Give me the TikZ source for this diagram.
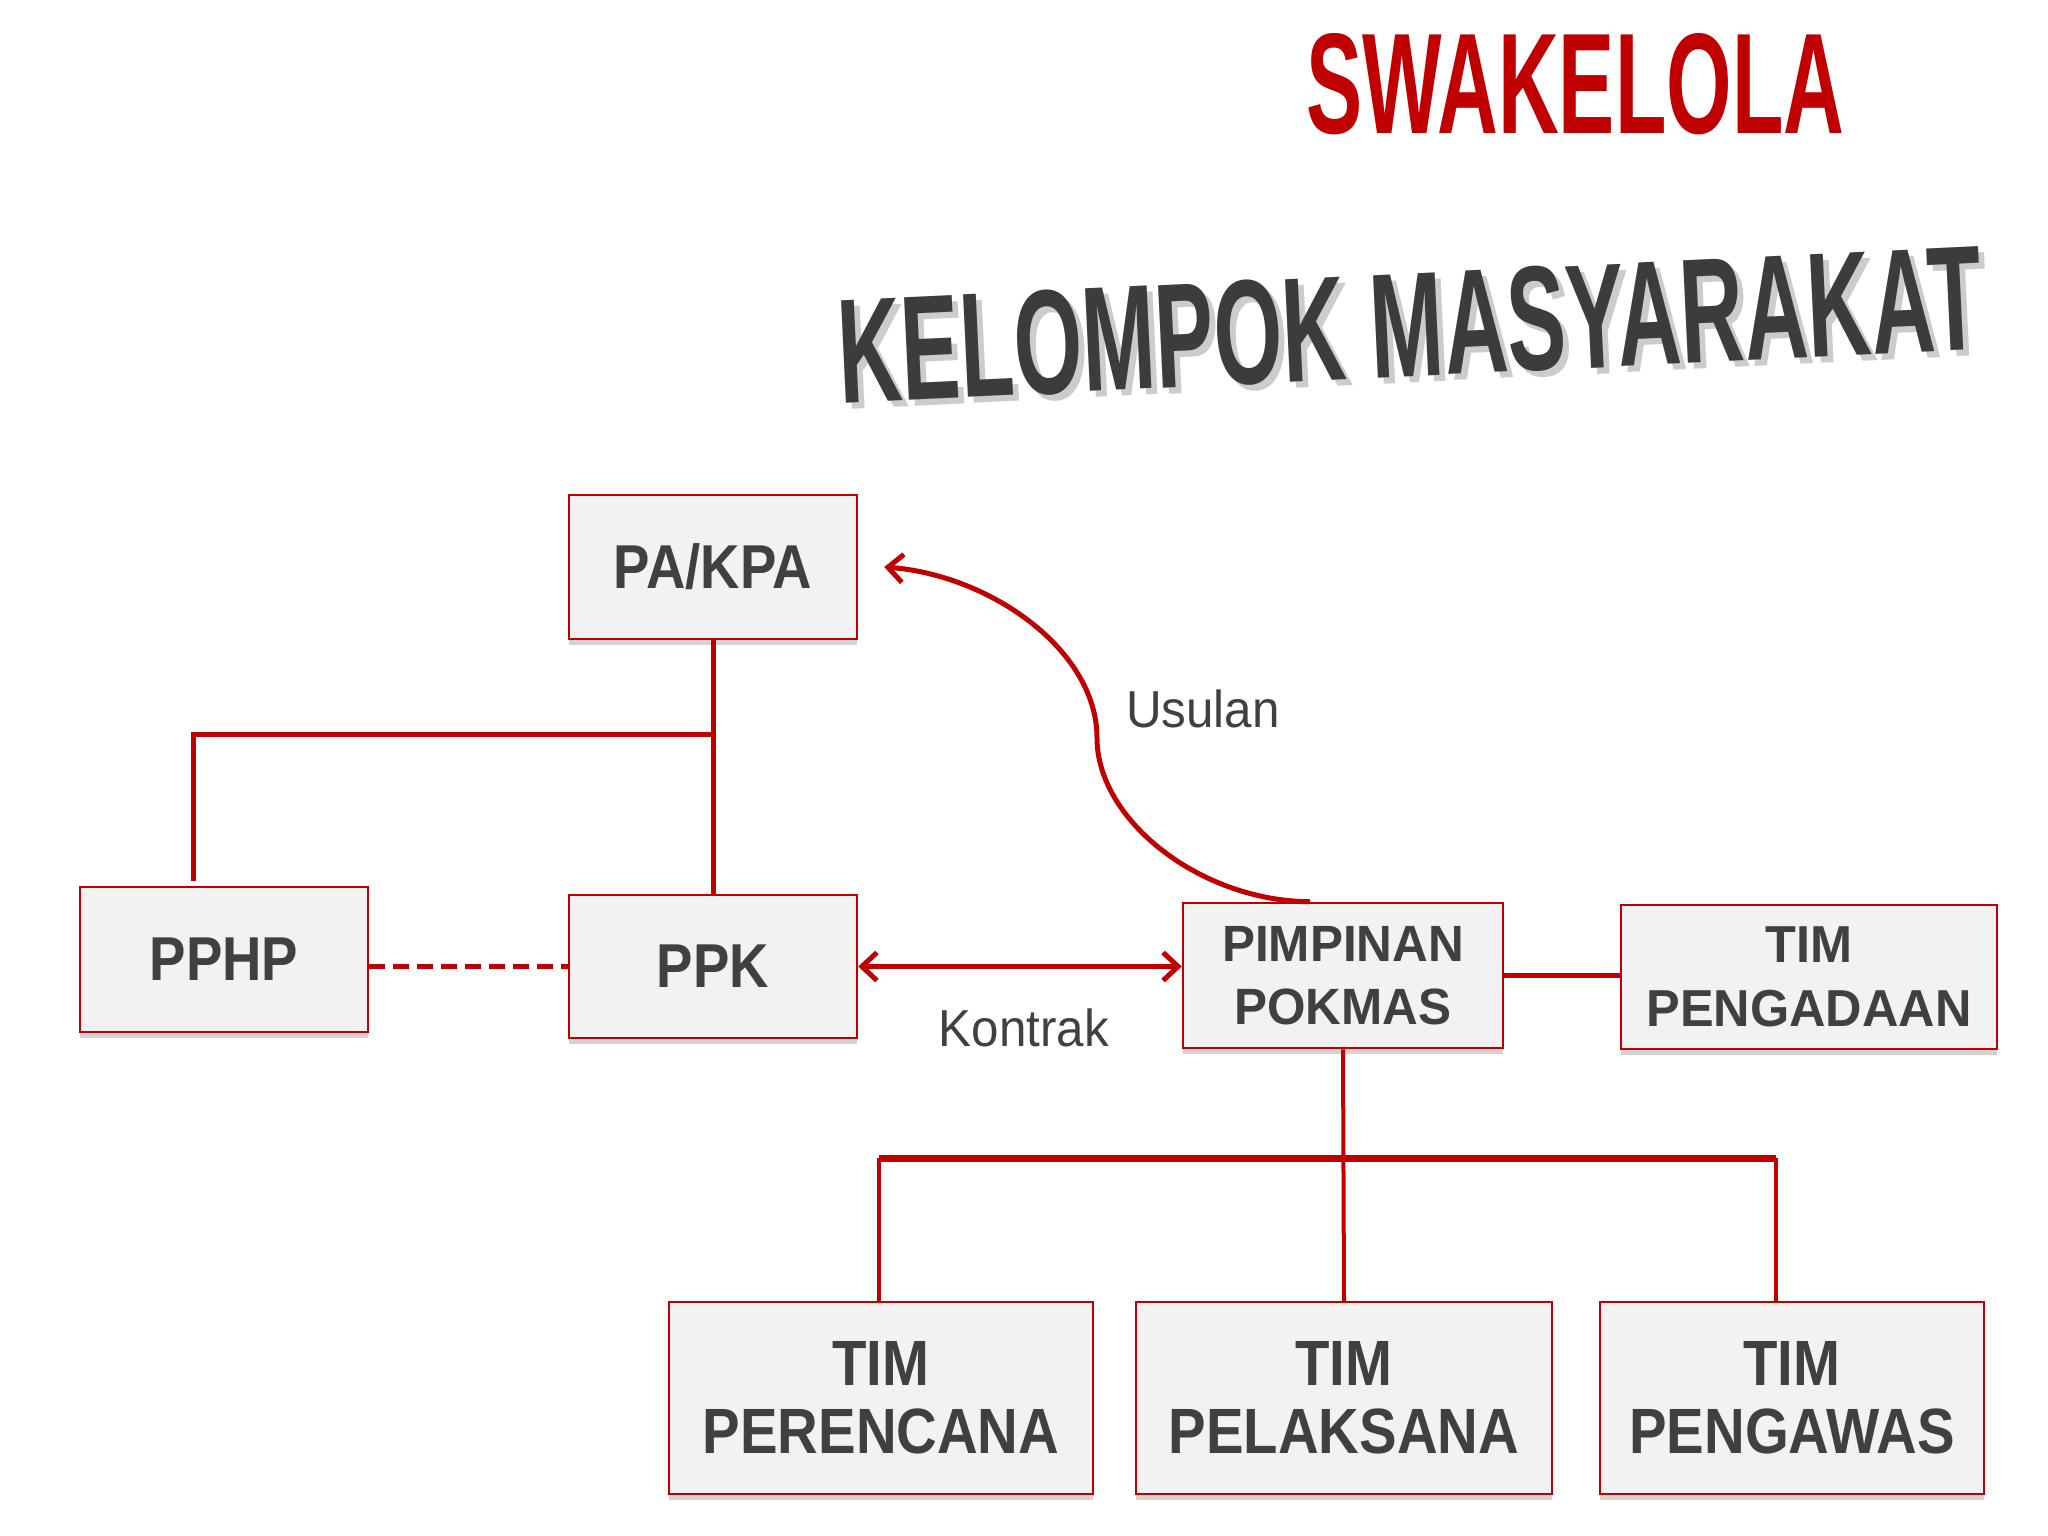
\documentclass[tikz,border=0pt]{standalone}
\usepackage{fontspec}
\usepackage{graphicx}
\setmainfont{Liberation Sans}
\newfontfamily\fA[FakeStretch=0.88]{Liberation Sans}
\newfontfamily\fB[FakeStretch=0.97]{Liberation Sans}
\newfontfamily\fC[FakeStretch=0.95]{Liberation Sans}
\usetikzlibrary{arrows.meta,shadows,calc}
\definecolor{rd}{HTML}{C00000}
\definecolor{bx}{HTML}{F2F2F2}
\definecolor{tx}{HTML}{404040}
\definecolor{ttl}{HTML}{3C3C3E}
\definecolor{sh}{HTML}{D2D2D2}
\begin{document}
\begin{tikzpicture}[x=1pt,y=-1pt,
  box/.style={draw=rd, line width=2.5pt, fill=bx, text=tx, inner sep=0pt, align=center,
    general shadow={fill=sh, shadow yshift=-6pt}},
  link/.style={draw=rd, line width=5pt},
  barb/.tip={Straight Barb[length=15pt,width=28pt]},
  bigA/.style={font={\fA\bfseries\fontsize{62}{70}\selectfont}},
  twoB/.style={font={\fB\bfseries\fontsize{51}{63}\selectfont}},
  twoA/.style={font={\fA\bfseries\fontsize{64}{68}\selectfont}},
  lbl/.style={font={\fC\fontsize{52}{60}\selectfont}, text=tx, inner sep=0pt}
]
\useasboundingbox[fill=white] (0,0) rectangle (2048,1536);

% titles
\node[anchor=south west, inner sep=0pt, text=rd] (t1) at (1306,135)
  {\resizebox{538pt}{100pt}{\bfseries SWAKELOLA}};
\node[anchor=south west, inner sep=0pt, rotate=2.7, text=black!20] (t2s) at (846,411)
  {\resizebox{1145pt}{104pt}{\bfseries KELOMPOK MASYARAKAT}};
\node[anchor=south west, inner sep=0pt, rotate=2.7, text=ttl] (t2) at (840,405)
  {\resizebox{1145pt}{104pt}{\bfseries KELOMPOK MASYARAKAT}};

% boxes
\node[box, bigA, minimum width=288pt, minimum height=144pt] (pakpa) at (713,567) {PA/KPA};
\node[box, bigA, minimum width=288pt, minimum height=145pt] (pphp) at (224,959.5) {PPHP};
\node[box, bigA, minimum width=288pt, minimum height=143pt] (ppk) at (713,966.5) {PPK};
\node[box, twoB, minimum width=320pt, minimum height=145pt] (pokmas) at (1343,975.5) {PIMPINAN\\POKMAS};
\node[box, font={\fB\bfseries\fontsize{52}{64}\selectfont}, minimum width=376pt, minimum height=144pt] (pengadaan) at (1809,977) {TIM\\PENGADAAN};
\node[box, twoA, minimum width=424pt, minimum height=192pt] (perencana) at (881,1398) {TIM\\PERENCANA};
\node[box, twoA, minimum width=416pt, minimum height=192pt] (pelaksana) at (1344,1398) {TIM\\PELAKSANA};
\node[box, twoA, minimum width=384pt, minimum height=192pt] (pengawas) at (1792,1398) {TIM\\PENGAWAS};

% labels
\node[lbl] (usulan) at (1203,709) {Usulan};
\node[lbl] (kontrak) at (1024,1028) {Kontrak};

% connectors
\coordinate (busL) at (193,734);
\draw[link] (pakpa.south) -- (ppk.north);
\draw[link] (busL -| pakpa.south) -- (busL) -- ($(busL |- pphp.north)+(0,-5)$);
\draw[link, dash pattern=on 16pt off 8pt] (ppk.west -| pphp.east) -- (ppk.west);
\draw[link, barb-barb] (ppk.east) -- (ppk.east -| pokmas.west);
\draw[link] (pokmas.east) -- (pokmas.east -| pengadaan.west);
\draw[link, -barb] ([xshift=-33pt]pokmas.north) .. controls (1200,901) and (1097,820) .. (1097,738)
  .. controls (1097,650) and (990,575) .. ([xshift=26pt]pakpa.east);

\coordinate (bL) at (879,1158);
\coordinate (bR) at (1776,1158);
\draw[rd, line width=4pt] (pokmas.south) -- (pelaksana.north);
\draw[rd, line width=4pt] (bL) -- (bL |- perencana.north);
\draw[rd, line width=4pt] (bR) -- (bR |- pengawas.north);
\draw[rd, line width=7pt] (bL) -- (bR);
\end{tikzpicture}
\end{document}
